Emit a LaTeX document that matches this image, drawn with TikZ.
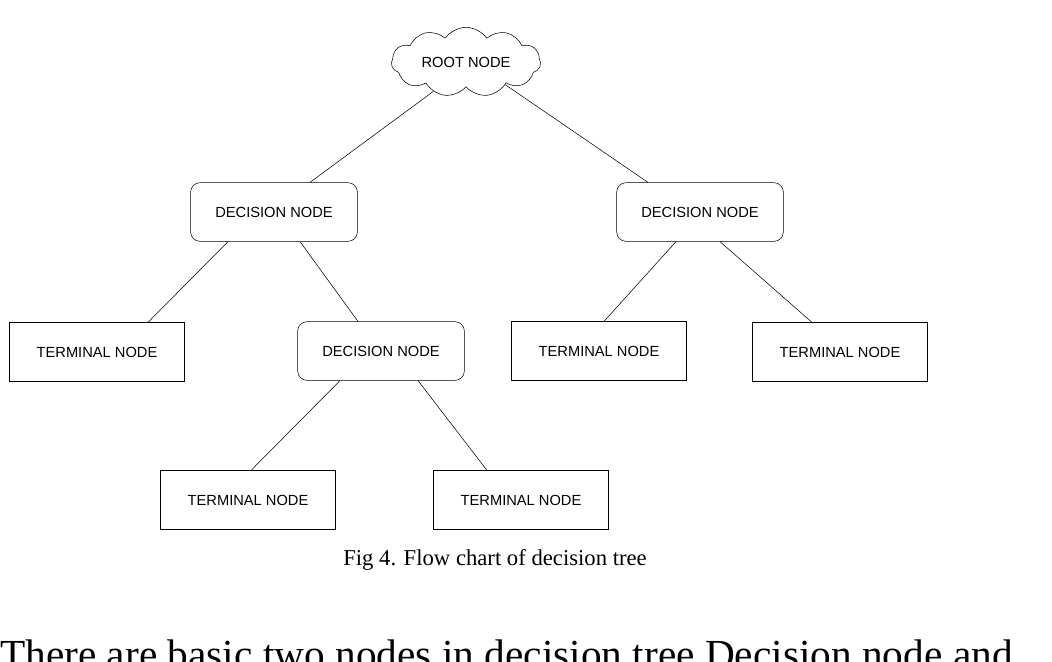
\documentclass[tikz,border=0pt]{standalone}
\usepackage{fontspec}
\setmainfont{Liberation Serif}
\newfontfamily\nodefont{Liberation Sans}
\usetikzlibrary{shapes.symbols,calc}
\begin{document}
\begin{tikzpicture}[x=0.75pt,y=-0.75pt,
  term/.style={draw,thin,minimum width=131pt,minimum height=44pt,font=\nodefont\fontsize{11}{13}\selectfont},
  dec/.style={term,rounded corners=7pt,minimum width=125pt},
  edge/.style={draw,thin}]
\useasboundingbox (0,0) rectangle (1052,661);
\clip (0,0) rectangle (1052,661);
\node[cloud,draw,thin,cloud puffs=11,cloud puff arc=110,aspect=2.4,minimum width=112pt,minimum height=52pt,inner sep=0pt,font=\nodefont\fontsize{11}{13}\selectfont] (root) at (466,62) {ROOT NODE};
\node[dec] (dl) at (274,212) {DECISION NODE};
\node[dec] (dr) at (700,212) {DECISION NODE};
\node[term] (t1) at (97,352) {TERMINAL NODE};
\node[dec] (dm) at (381,351) {DECISION NODE};
\node[term] (t3) at (599,351) {TERMINAL NODE};
\node[term] (t4) at (840,352) {TERMINAL NODE};
\node[term] (t5) at (248,500) {TERMINAL NODE};
\node[term] (t6) at (521,500) {TERMINAL NODE};
\draw[edge] (root.222) -- ($(dl.north)+(36,0)$);
\draw[edge] (root.330) -- ($(dr.north)+(-52,0)$);
\draw[edge] ($(dl.south)+(-46,0)$) -- ($(t1.north)+(51,0)$);
\draw[edge] ($(dl.south)+(26,0)$) -- ($(dm.north)+(-23,0)$);
\draw[edge] ($(dr.south)+(-24,0)$) -- ($(t3.north)+(5,0)$);
\draw[edge] ($(dr.south)+(20,0)$) -- ($(t4.north)+(-28,0)$);
\draw[edge] ($(dm.south)+(-41,0)$) -- ($(t5.north)+(3,0)$);
\draw[edge] ($(dm.south)+(37,0)$) -- ($(t6.north)+(-34,0)$);
\node[font=\fontsize{17}{20}\selectfont] (cap) at (495,560) {Fig 4. Flow chart of decision tree};
\node[anchor=base west,font=\fontsize{31}{36}\selectfont,inner sep=0pt] (body) at (0,668) {There are basic two nodes in decision tree Decision node and};
\end{tikzpicture}
\end{document}
